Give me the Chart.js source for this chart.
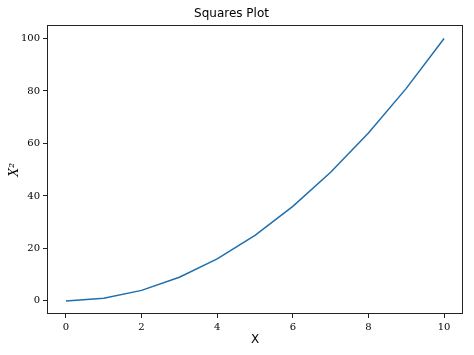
<!DOCTYPE html>
<html>
<head>
<meta charset="utf-8">
<script src="https://cdn.jsdelivr.net/npm/chart.js@4"></script>
<style>
  body { margin: 0; background: #fff; }
  #squaresChart { display: block; }
</style>
</head>
<body>
<canvas id="squaresChart" width="474" height="355"></canvas>
<script>
// data
var xValues = [0, 1, 2, 3, 4, 5, 6, 7, 8, 9, 10];
var yValues = [0, 1, 4, 9, 16, 25, 36, 49, 64, 81, 100];
var xTicks = [0, 2, 4, 6, 8, 10];
var yTicks = [0, 20, 40, 60, 80, 100];

var points = xValues.map(function (x, i) { return { x: x, y: yValues[i] }; });

var tickFont = { family: "'DejaVu Serif', 'Liberation Serif', serif", size: 10 };

// draws the axes box (all four sides)
var boxPlugin = {
  id: "box",
  afterDraw: function (chart) {
    var a = chart.chartArea;
    var c = chart.ctx;
    c.save();
    c.strokeStyle = "#222";
    c.lineWidth = 1;
    c.strokeRect(Math.round(a.left) + 0.5, Math.round(a.top) + 0.5,
      Math.round(a.right - a.left) - 1, Math.round(a.bottom - a.top) - 1);
    c.restore();
  }
};

var ctx = document.getElementById("squaresChart").getContext("2d");
var chart = new Chart(ctx, {
  type: "line",
  data: {
    datasets: [
      {
        data: points,
        borderColor: "#1f6fae",
        borderWidth: 1.5,
        pointRadius: 0,
        tension: 0,
        fill: false
      }
    ]
  },
  options: {
    responsive: false,
    animation: false,
    layout: { padding: { right: 11, left: 0, bottom: 0 } },
    plugins: {
      legend: { display: false },
      tooltip: { enabled: false },
      title: {
        display: true,
        text: "Squares Plot",
        color: "#000",
        font: { family: "'DejaVu Sans', sans-serif", size: 12, weight: "normal" },
        padding: { top: 7, bottom: 4 }
      }
    },
    scales: {
      x: {
        type: "linear",
        min: -0.5,
        max: 10.5,
        afterBuildTicks: function (scale) {
          scale.ticks = xTicks.map(function (v) { return { value: v }; });
        },
        afterFit: function (scale) { scale.height = 41; },
        grid: { drawOnChartArea: false, tickLength: 4, tickColor: "#222" },
        border: { display: false },
        ticks: { color: "#000", font: tickFont, padding: 3, maxRotation: 0 },
        title: {
          display: true,
          text: "X",
          color: "#000",
          font: { family: "'DejaVu Sans', sans-serif", size: 12 },
          padding: { top: 0, bottom: 8 }
        }
      },
      y: {
        min: -5,
        max: 105,
        afterBuildTicks: function (scale) {
          scale.ticks = yTicks.map(function (v) { return { value: v }; });
        },
        afterFit: function (scale) { scale.width = 47; },
        grid: { drawOnChartArea: false, tickLength: 4, tickColor: "#222" },
        border: { display: false },
        ticks: { color: "#000", font: tickFont, padding: 3 },
        title: {
          display: true,
          text: "X²",
          color: "#000",
          font: { family: "'DejaVu Serif', serif", size: 12, style: "italic" },
          padding: { top: 8, bottom: 2 }
        }
      }
    }
  },
  plugins: [boxPlugin]
});
</script>
</body>
</html>
